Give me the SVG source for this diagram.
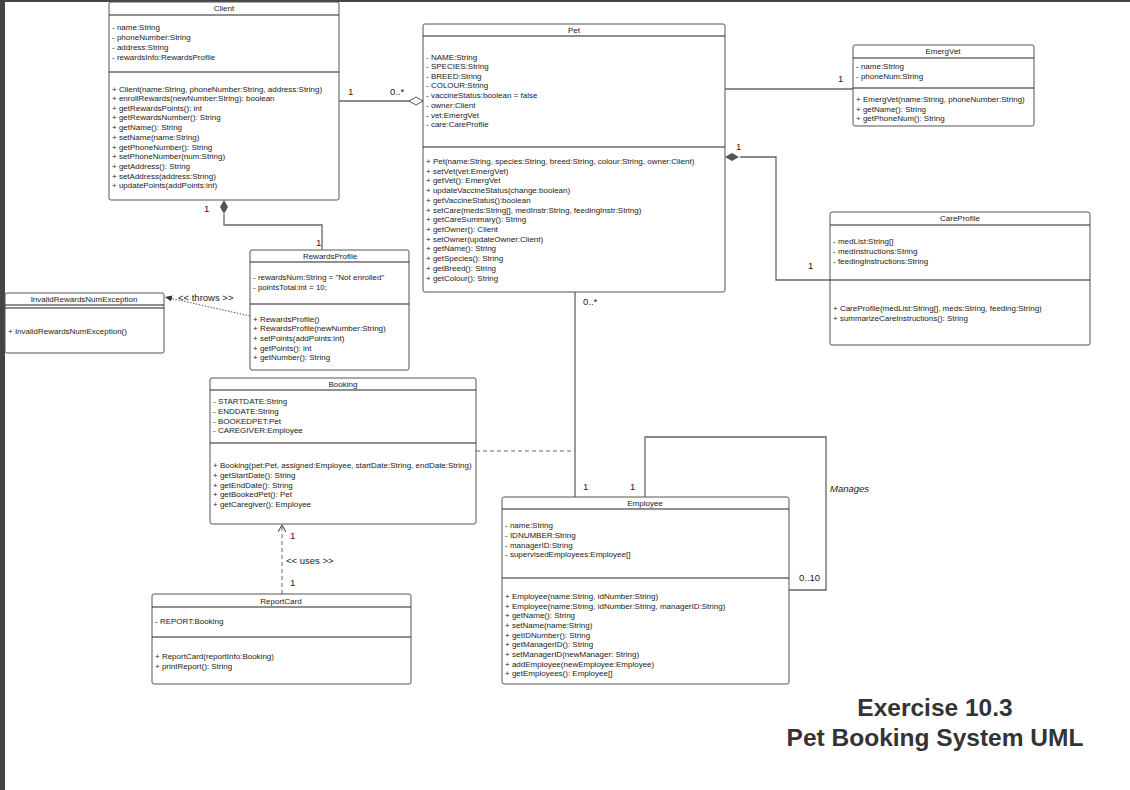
<svg xmlns="http://www.w3.org/2000/svg" width="1130" height="790" viewBox="0 0 1130 790">
<defs>
<style>
text{font-family:"Liberation Sans",Arial,sans-serif;font-size:8px;fill:#222}
.c{text-anchor:middle}
.box{fill:#fff;stroke:#555;stroke-width:1}
.sep{stroke:#222;stroke-width:1.2}
.ln{fill:none;stroke:#666;stroke-width:1.3}
.lab{font-size:9.5px}
.t{font-size:24.5px;font-weight:bold;text-anchor:middle;fill:#333}
</style>
<marker id="open" markerWidth="8" markerHeight="8" refX="7" refY="4" orient="auto" markerUnits="userSpaceOnUse"><path d="M0,0 L7,4 L0,8" fill="none" stroke="#333"/></marker>
<marker id="filled" markerWidth="8" markerHeight="8" refX="7" refY="4" orient="auto" markerUnits="userSpaceOnUse"><path d="M0,1 L7,4 L0,7 z" fill="#333"/></marker>
</defs>
<rect width="1130" height="790" fill="#fff"/>
<rect x="0" y="0" width="1130" height="2" fill="#444"/>
<rect x="0" y="0" width="5" height="790" fill="#444"/>

<g id="connectors">
<path class="ln" d="M339,101 H415"/>
<path d="M423,101 l-7,-4 l-7,4 l7,4 z" fill="#fff" stroke="#555"/>
<path class="ln" d="M725,89 H853"/>
<path class="ln" d="M740,157 H776 V280 H830"/>
<path d="M725,157 l7,-4 l7,4 l-7,4 z" fill="#555"/>
<path class="ln" d="M224,214 V225 H322 V250"/>
<path d="M224,200 l4,7 l-4,7 l-4,-7 z" fill="#555"/>
<path d="M250,316 L165,297" fill="none" stroke="#555" stroke-dasharray="1.5,1.5" marker-end="url(#filled)"/>
<path class="ln" d="M575,292 V497"/>
<path d="M476,451 H575" fill="none" stroke="#666" stroke-dasharray="4,3"/>
<path class="ln" d="M645,497 V437 H826 V590 H789"/>
<path d="M282,594 V525" fill="none" stroke="#666" stroke-dasharray="4,3" marker-end="url(#open)"/>
<text class="lab" x="348" y="95">1</text>
<text class="lab" x="390" y="95">0..*</text>
<text class="lab" x="838" y="82">1</text>
<text class="lab" x="736" y="150">1</text>
<text class="lab" x="808" y="269">1</text>
<text class="lab" x="204" y="212">1</text>
<text class="lab" x="316" y="246">1</text>
<text class="lab" x="178" y="301">&lt;&lt; throws &gt;&gt;</text>
<text class="lab" x="583" y="305">0..*</text>
<text class="lab" x="583" y="490">1</text>
<text class="lab" x="630" y="490">1</text>
<text class="lab" x="799" y="581">0..10</text>
<text class="lab" x="830" y="492" font-style="italic">Manages</text>
<text class="lab" x="290" y="539">1</text>
<text class="lab" x="286" y="564">&lt;&lt; uses &gt;&gt;</text>
<text class="lab" x="290" y="586">1</text>
</g>

<g id="Client">
<rect class="box" x="109" y="2" width="230" height="198" rx="2"/>
<line class="sep" x1="109" y1="15" x2="339" y2="15"/>
<line class="sep" x1="109" y1="72" x2="339" y2="72"/>
<text class="c" x="224" y="11">Client</text>
<text x="112" y="30">- name:String</text>
<text x="112" y="40">- phoneNumber:String</text>
<text x="112" y="50">- address:String</text>
<text x="112" y="60">- rewardsInfo:RewardsProfile</text>
<text x="112" y="92">+ Client(name:String, phoneNumber:String, address:String)</text>
<text x="112" y="101">+ enrollRewards(newNumber:String): boolean</text>
<text x="112" y="111">+ getRewardsPoints(): int</text>
<text x="112" y="120">+ getRewardsNumber(): String</text>
<text x="112" y="130">+ getName(): String</text>
<text x="112" y="140">+ setName(name:String)</text>
<text x="112" y="150">+ getPhoneNumber(): String</text>
<text x="112" y="159">+ setPhoneNumber(num:String)</text>
<text x="112" y="169">+ getAddress(): String</text>
<text x="112" y="179">+ setAddress(address:String)</text>
<text x="112" y="188">+ updatePoints(addPoints:int)</text>
</g>

<g id="Pet">
<rect class="box" x="423" y="24" width="302" height="268" rx="2"/>
<line class="sep" x1="423" y1="36" x2="725" y2="36"/>
<line class="sep" x1="423" y1="147" x2="725" y2="147"/>
<text class="c" x="574" y="33">Pet</text>
<text x="426" y="60">- NAME:String</text>
<text x="426" y="69">- SPECIES:String</text>
<text x="426" y="79">- BREED:String</text>
<text x="426" y="88">- COLOUR:String</text>
<text x="426" y="98">- vaccineStatus:boolean = false</text>
<text x="426" y="108">- owner:Client</text>
<text x="426" y="118">- vet:EmergVet</text>
<text x="426" y="127">- care:CareProfile</text>
<text x="426" y="164">+ Pet(name:String, species:String, breed:String, colour:String, owner:Client)</text>
<text x="426" y="174">+ setVet(vet:EmergVet)</text>
<text x="426" y="183">+ getVet(): EmergVet</text>
<text x="426" y="193">+ updateVaccineStatus(change:boolean)</text>
<text x="426" y="203">+ getVaccineStatus():boolean</text>
<text x="426" y="213">+ setCare(meds:String[], medInstr:String, feedingInstr:String)</text>
<text x="426" y="222">+ getCareSummary(): String</text>
<text x="426" y="232">+ getOwner(): Client</text>
<text x="426" y="242">+ setOwner(updateOwner:Client)</text>
<text x="426" y="251">+ getName(): String</text>
<text x="426" y="261">+ getSpecies(): String</text>
<text x="426" y="271">+ getBreed(): String</text>
<text x="426" y="281">+ getColour(): String</text>
</g>

<g id="EmergVet">
<rect class="box" x="853" y="45" width="181" height="81" rx="2"/>
<line class="sep" x1="853" y1="58" x2="1034" y2="58"/>
<line class="sep" x1="853" y1="88" x2="1034" y2="88"/>
<text class="c" x="943" y="54">EmergVet</text>
<text x="856" y="69">- name:String</text>
<text x="856" y="79">- phoneNum:String</text>
<text x="856" y="102">+ EmergVet(name:String, phoneNumber:String)</text>
<text x="856" y="112">+ getName(): String</text>
<text x="856" y="121">+ getPhoneNum(): String</text>
</g>

<g id="CareProfile">
<rect class="box" x="830" y="212" width="260" height="133" rx="2"/>
<line class="sep" x1="830" y1="225" x2="1090" y2="225"/>
<line class="sep" x1="830" y1="280" x2="1090" y2="280"/>
<text class="c" x="960" y="221">CareProfile</text>
<text x="833" y="244">- medList:String[]</text>
<text x="833" y="254">- medInstructions:String</text>
<text x="833" y="264">- feedingInstructions:String</text>
<text x="833" y="311">+ CareProfile(medList:String[], meds:String, feeding:String)</text>
<text x="833" y="321">+ summarizeCareInstructions(): String</text>
</g>

<g id="RewardsProfile">
<rect class="box" x="250" y="250" width="159" height="120" rx="2"/>
<line class="sep" x1="250" y1="262" x2="409" y2="262"/>
<line class="sep" x1="250" y1="304" x2="409" y2="304"/>
<text class="c" x="330" y="259">RewardsProfile</text>
<text x="253" y="280">- rewardsNum:String = "Not enrolled"</text>
<text x="253" y="290">- pointsTotal:int = 10;</text>
<text x="253" y="322">+ RewardsProfile()</text>
<text x="253" y="331">+ RewardsProfile(newNumber:String)</text>
<text x="253" y="341">+ setPoints(addPoints:int)</text>
<text x="253" y="351">+ getPoints(): int</text>
<text x="253" y="360">+ getNumber(): String</text>
</g>

<g id="InvalidRewardsNumException">
<rect class="box" x="5" y="293" width="159" height="60" rx="2"/>
<line class="sep" x1="5" y1="305" x2="164" y2="305"/>
<line class="sep" x1="5" y1="308" x2="164" y2="308"/>
<text class="c" x="84" y="302">InvalidRewardsNumException</text>
<text x="8" y="334">+ InvalidRewardsNumException()</text>
</g>

<g id="Booking">
<rect class="box" x="210" y="378" width="266" height="146" rx="2"/>
<line class="sep" x1="210" y1="390" x2="476" y2="390"/>
<line class="sep" x1="210" y1="443" x2="476" y2="443"/>
<text class="c" x="343" y="387">Booking</text>
<text x="213" y="404">- STARTDATE:String</text>
<text x="213" y="414">- ENDDATE:String</text>
<text x="213" y="424">- BOOKEDPET:Pet</text>
<text x="213" y="433">- CAREGIVER:Employee</text>
<text x="213" y="468">+ Booking(pet:Pet, assigned:Employee, startDate:String, endDate:String)</text>
<text x="213" y="478">+ getStartDate(): String</text>
<text x="213" y="488">+ getEndDate(): String</text>
<text x="213" y="497">+ getBookedPet(): Pet</text>
<text x="213" y="507">+ getCaregiver(): Employee</text>
</g>

<g id="ReportCard">
<rect class="box" x="152" y="594" width="259" height="90" rx="2"/>
<line class="sep" x1="152" y1="607" x2="411" y2="607"/>
<line class="sep" x1="152" y1="637" x2="411" y2="637"/>
<text class="c" x="281" y="604">ReportCard</text>
<text x="155" y="624">- REPORT:Booking</text>
<text x="155" y="659">+ ReportCard(reportInfo:Booking)</text>
<text x="155" y="669">+ printReport(): String</text>
</g>

<g id="Employee">
<rect class="box" x="502" y="497" width="287" height="187" rx="2"/>
<line class="sep" x1="502" y1="509" x2="789" y2="509"/>
<line class="sep" x1="502" y1="578" x2="789" y2="578"/>
<text class="c" x="645" y="506">Employee</text>
<text x="505" y="528">- name:String</text>
<text x="505" y="538">- IDNUMBER:String</text>
<text x="505" y="548">- managerID:String</text>
<text x="505" y="557">- supervisedEmployees:Employee[]</text>
<text x="505" y="599">+ Employee(name:String, idNumber:String)</text>
<text x="505" y="609">+ Employee(name:String, idNumber:String, managerID:String)</text>
<text x="505" y="618">+ getName(): String</text>
<text x="505" y="628">+ setName(name:String)</text>
<text x="505" y="638">+ getIDNumber(): String</text>
<text x="505" y="647">+ getManagerID(): String</text>
<text x="505" y="657">+ setManagerID(newManager: String)</text>
<text x="505" y="667">+ addEmployee(newEmployee:Employee)</text>
<text x="505" y="676">+ getEmployees(): Employee[]</text>
</g>

<text class="t" x="935" y="716">Exercise 10.3</text>
<text class="t" x="935" y="746">Pet Booking System UML</text>
</svg>
